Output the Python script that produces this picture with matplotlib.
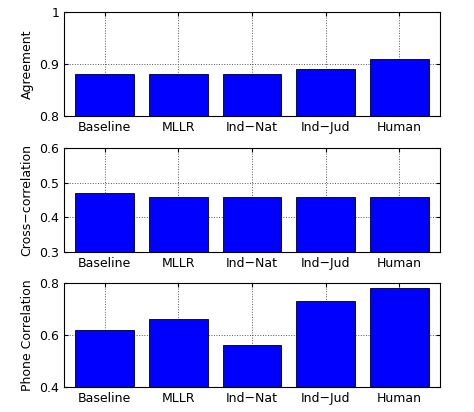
import matplotlib
matplotlib.use("Agg")
import matplotlib.pyplot as plt

categories = ["Baseline", "MLLR", "Ind\u2212Nat", "Ind\u2212Jud", "Human"]
agreement = [0.88, 0.88, 0.88, 0.89, 0.91]
crosscorr = [0.47, 0.46, 0.46, 0.46, 0.46]
phonecorr = [0.62, 0.66, 0.56, 0.73, 0.78]

panels = [
    (agreement, "Agreement", (0.8, 1.0), [0.8, 0.9, 1.0], ["0.8", "0.9", "1"]),
    (crosscorr, "Cross\u2212correlation", (0.3, 0.6), [0.3, 0.4, 0.5, 0.6], ["0.3", "0.4", "0.5", "0.6"]),
    (phonecorr, "Phone Correlation", (0.4, 0.8), [0.4, 0.6, 0.8], ["0.4", "0.6", "0.8"]),
]

fig = plt.figure(figsize=(4.74, 4.12), dpi=100)
tops = [12, 148, 283]
h = 104
for (vals, lab, yl, yt, ytl), t in zip(panels, tops):
    ax = fig.add_axes([64/474, 1 - (t + h)/412, (440-64)/474, h/412])
    x = range(1, len(categories) + 1)
    ax.bar(x, vals, width=0.8, color="#0000ff", edgecolor="black", linewidth=0.6, zorder=3)
    ax.set_xlim(0.45, 5.55)
    ax.set_ylim(*yl)
    ax.set_yticks(yt)
    ax.set_yticklabels(ytl)
    ax.set_xticks(list(x))
    ax.set_xticklabels(categories)
    ax.set_ylabel(lab, fontsize=9)
    ax.tick_params(labelsize=9, direction="in", length=3, top=True, right=True)
    ax.grid(True, linestyle=":", color="#555555", linewidth=0.7, zorder=0)
    ax.set_axisbelow(True)

fig.savefig("out.png", dpi=100)
